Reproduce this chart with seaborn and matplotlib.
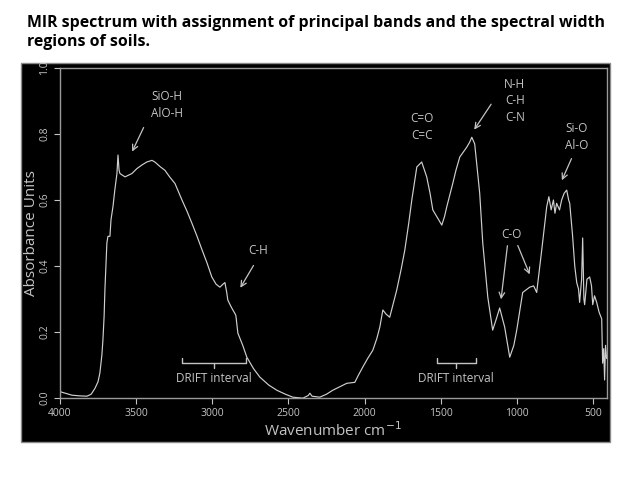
import numpy as np
import pandas as pd
import matplotlib
matplotlib.use("Agg")
import matplotlib.pyplot as plt
import seaborn as sns
from matplotlib.patches import Rectangle

# spectrum (wavenumber cm-1, absorbance)
wavenumber = [4000, 3987, 3950, 3921, 3870, 3823, 3795, 3770, 3750, 3738, 3725, 3718,
              3710, 3705, 3698, 3692, 3685, 3672, 3665, 3652, 3640, 3626, 3619, 3612,
              3606, 3590, 3573, 3550, 3528, 3495, 3462, 3430, 3396, 3377, 3340, 3311,
              3280, 3245, 3199, 3165, 3134, 3100, 3068, 3035, 3003, 2975, 2950, 2930,
              2917, 2905, 2898, 2880, 2865, 2852, 2845, 2832, 2800, 2773, 2730, 2688,
              2630, 2576, 2520, 2471, 2405, 2370, 2359, 2345, 2294, 2250, 2209, 2160,
              2117, 2064, 2040, 2012, 1980, 1946, 1920, 1900, 1880, 1860, 1835, 1810,
              1789, 1760, 1736, 1710, 1690, 1657, 1625, 1592, 1570, 1552, 1520, 1493,
              1475, 1460, 1421, 1400, 1375, 1329, 1310, 1296, 1277, 1244, 1224, 1191,
              1159, 1135, 1113, 1080, 1047, 1020, 1001, 962, 916, 890, 870, 837,
              804, 790, 775, 760, 750, 739, 720, 706, 690, 673, 660, 653,
              634, 620, 607, 595, 588, 575, 568, 560, 555, 540, 522, 510,
              502, 490, 476, 460, 443, 437, 430, 424, 418, 411]
absorbance = [0.020, 0.018, 0.013, 0.009, 0.007, 0.006, 0.012, 0.030, 0.050, 0.076, 0.130, 0.176,
              0.250, 0.327, 0.400, 0.470, 0.490, 0.490, 0.540, 0.580, 0.630, 0.680, 0.736, 0.690,
              0.680, 0.675, 0.670, 0.675, 0.680, 0.695, 0.706, 0.715, 0.720, 0.715, 0.700, 0.690,
              0.670, 0.650, 0.600, 0.565, 0.530, 0.490, 0.450, 0.410, 0.367, 0.345, 0.336, 0.345,
              0.350, 0.320, 0.297, 0.280, 0.267, 0.257, 0.250, 0.197, 0.160, 0.124, 0.090, 0.064,
              0.040, 0.024, 0.012, 0.003, 0.000, 0.008, 0.015, 0.006, 0.003, 0.012, 0.024, 0.035,
              0.045, 0.048, 0.070, 0.094, 0.120, 0.145, 0.180, 0.215, 0.267, 0.255, 0.245, 0.290,
              0.327, 0.390, 0.448, 0.530, 0.600, 0.700, 0.715, 0.670, 0.620, 0.570, 0.545, 0.524,
              0.550, 0.580, 0.650, 0.690, 0.730, 0.760, 0.775, 0.790, 0.770, 0.620, 0.470, 0.306,
              0.206, 0.240, 0.273, 0.215, 0.124, 0.160, 0.206, 0.320, 0.336, 0.340, 0.320, 0.448,
              0.580, 0.610, 0.570, 0.600, 0.560, 0.590, 0.570, 0.600, 0.620, 0.630, 0.600, 0.590,
              0.490, 0.400, 0.350, 0.330, 0.290, 0.360, 0.485, 0.300, 0.283, 0.360, 0.367, 0.340,
              0.283, 0.310, 0.290, 0.260, 0.240, 0.106, 0.150, 0.055, 0.160, 0.120]

# band labels: text, text position, arrow start and end
band_labels = ["SiO-H\nAlO-H", "C-H", "C=O\nC=C", "N-H\nC-H\nC-N", "Si-O\nAl-O", "C-O"]
label_xy = [(3300, 0.888), (2700, 0.448), (1625, 0.821), (1014, 0.900), (607, 0.790), (1034, 0.497)]
arrow_from = [[(3443, 0.827)], [(2720, 0.409)], [], [(1159, 0.897)], [(634, 0.733)],
              [(1060, 0.470), (1001, 0.470)]]
arrow_to = [[(3534, 0.739)], [(2825, 0.327)], [], [(1290, 0.806)], [(712, 0.652)],
            [(1106, 0.291), (909, 0.367)]]

drift_intervals = [(3200, 2780), (1525, 1270)]
drift_label = "DRIFT interval"

xticks = [4000, 3500, 3000, 2500, 2000, 1500, 1000, 500]
yticks = [0.0, 0.2, 0.4, 0.6, 0.8, 1.0]

df = pd.DataFrame({"wn": wavenumber, "A": absorbance})

sns.set_style("dark")
plt.rcParams["font.family"] = ["Open Sans", "DejaVu Sans"]
grey = "#c4c4c4"

fig = plt.figure(figsize=(6.38, 4.78), dpi=100)
fig.patch.set_facecolor("white")
bg = Rectangle((0.033, 0.075), 0.923, 0.793, transform=fig.transFigure,
               facecolor="black", edgecolor="#8a8a8a", linewidth=1.0, zorder=-10)
fig.add_artist(bg)

ax = fig.add_axes([0.094, 0.167, 0.857, 0.691])
ax.set_zorder(5)
ax.set_facecolor("black")
sns.lineplot(data=df, x="wn", y="A", ax=ax, color="#cfcfcf", linewidth=0.85,
             sort=False, estimator=None)

ax.set_xlim(4000, 410)
ax.set_ylim(0, 1.0)
ax.set_xticks(xticks)
ax.set_xticklabels([str(t) for t in xticks], fontsize=7.5, color=grey)
ax.set_yticks(yticks)
ax.set_yticklabels(["%.1f" % t for t in yticks], fontsize=7.5, color=grey,
                   rotation=90, va="center")
ax.tick_params(axis="both", direction="out", length=4, width=0.8, color=grey,
               bottom=True, left=True, pad=3)
ax.grid(False)
for s in ax.spines.values():
    s.set_color("#9a9a9a")
    s.set_linewidth(1.0)

ax.set_xlabel("Wavenumber cm$^{-1}$", fontsize=11, color=grey, labelpad=2)
ax.set_ylabel("Absorbance Units", fontsize=11, color=grey, labelpad=0)

for lab, xy, starts, ends in zip(band_labels, label_xy, arrow_from, arrow_to):
    ax.text(xy[0], xy[1], lab, color=grey, fontsize=8.5, ha="center", va="center",
            linespacing=1.35)
    for a, b in zip(starts, ends):
        ax.annotate("", xy=b, xytext=a,
                    arrowprops=dict(arrowstyle="->", color=grey, lw=0.9))

for x0, x1 in drift_intervals:
    xm = (x0 + x1) / 2
    ax.plot([x0, x0, x1, x1], [0.121, 0.106, 0.106, 0.121], color=grey, lw=1.0)
    ax.plot([xm, xm], [0.106, 0.091], color=grey, lw=1.0)
    ax.text(xm, 0.061, drift_label, color=grey, fontsize=8.5, ha="center", va="center")

fig.text(0.043, 0.968, "MIR spectrum with assignment of principal bands and the spectral width\nregions of soils.",
         fontsize=11.4, fontweight="bold", color="black", ha="left", va="top", linespacing=1.25)

fig.savefig("out.png", dpi=100)
